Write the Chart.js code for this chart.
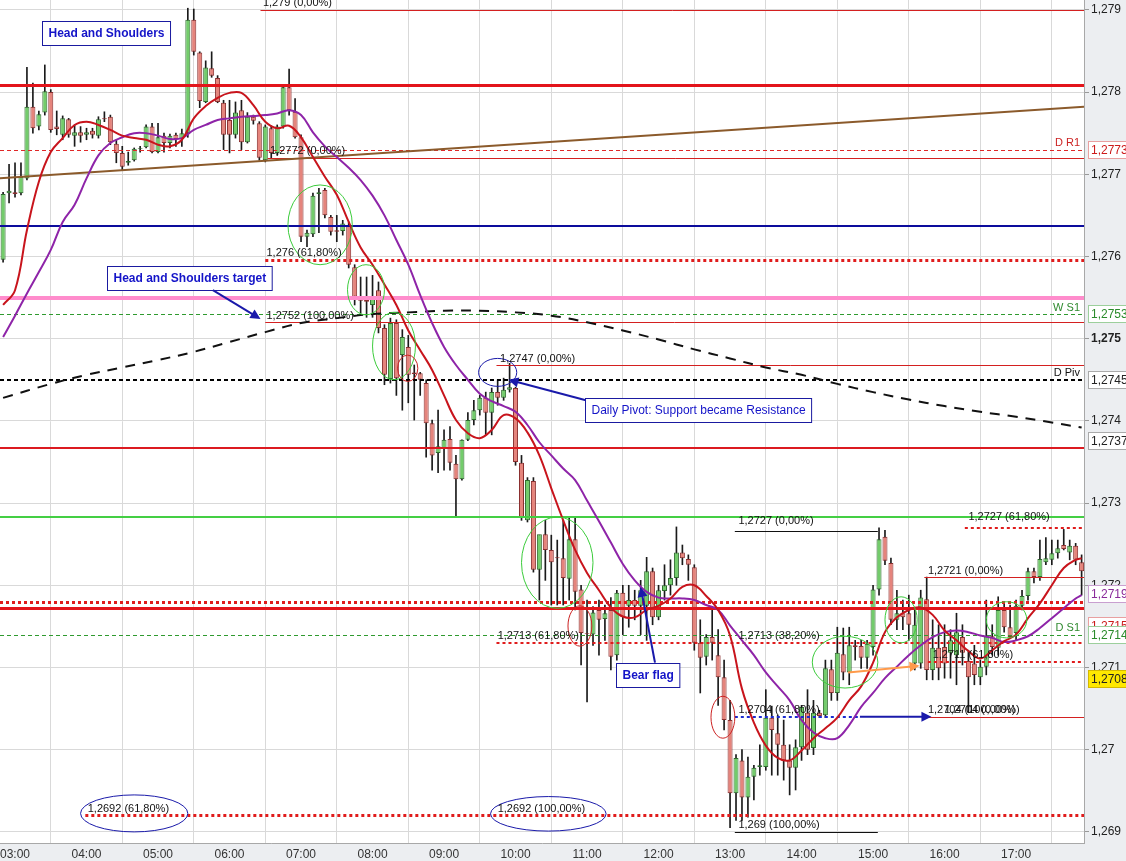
<!DOCTYPE html>
<html>
<head>
<meta charset="utf-8">
<title>EUR/USD 5 min - Head and Shoulders</title>
<script src="https://cdn.jsdelivr.net/npm/chart.js@4.4.1/dist/chart.umd.min.js"></script>
<style>
  html, body { margin: 0; padding: 0; background: #ffffff; overflow: hidden; }
  canvas { display: block; }
</style>
</head>
<body>
<canvas id="chart" width="1126" height="861"></canvas>
<script>
// 5 minute candles.
const times = [
  '02:50','02:55',
  '03:00','03:05','03:10','03:15','03:20','03:25','03:30','03:35','03:40','03:45','03:50','03:55',
  '04:00','04:05','04:10','04:15','04:20','04:25','04:30','04:35','04:40','04:45','04:50','04:55',
  '05:00','05:05','05:10','05:15','05:20','05:25','05:30','05:35','05:40','05:45','05:50','05:55',
  '06:00','06:05','06:10','06:15','06:20','06:25','06:30','06:35','06:40','06:45','06:50','06:55',
  '07:00','07:05','07:10','07:15','07:20','07:25','07:30','07:35','07:40','07:45','07:50','07:55',
  '08:00','08:05','08:10','08:15','08:20','08:25','08:30','08:35','08:40','08:45','08:50','08:55',
  '09:00','09:05','09:10','09:15','09:20','09:25','09:30','09:35','09:40','09:45','09:50','09:55',
  '10:00','10:05','10:10','10:15','10:20','10:25','10:30','10:35','10:40','10:45','10:50','10:55',
  '11:00','11:05','11:10','11:15','11:20','11:25','11:30','11:35','11:40','11:45','11:50','11:55',
  '12:00','12:05','12:10','12:15','12:20','12:25','12:30','12:35','12:40','12:45','12:50','12:55',
  '13:00','13:05','13:10','13:15','13:20','13:25','13:30','13:35','13:40','13:45','13:50','13:55',
  '14:00','14:05','14:10','14:15','14:20','14:25','14:30','14:35','14:40','14:45','14:50','14:55',
  '15:00','15:05','15:10','15:15','15:20','15:25','15:30','15:35','15:40','15:45','15:50','15:55',
  '16:00','16:05','16:10','16:15','16:20','16:25','16:30','16:35','16:40','16:45','16:50','16:55',
  '17:00','17:05','17:10','17:15','17:20','17:25','17:30','17:35','17:40','17:45','17:50','17:55'
];

const opens = [
  1.27596, 1.27677,
  1.27678, 1.27677, 1.27695, 1.27782, 1.27758, 1.27775, 1.27800, 1.27758, 1.27748, 1.27767, 1.27747, 1.27751,
  1.27748, 1.27753, 1.27747, 1.27768, 1.27770, 1.27737, 1.27726, 1.27714, 1.27717, 1.27731, 1.27733, 1.27758,
  1.27727, 1.27747, 1.27738, 1.27748, 1.27743, 1.27750, 1.27888, 1.27848, 1.27788, 1.27829, 1.27817, 1.27787,
  1.27766, 1.27748, 1.27778, 1.27739, 1.27770, 1.27762, 1.27717, 1.27756, 1.27726, 1.27758, 1.27806, 1.27776,
  1.27745, 1.27624, 1.27627, 1.27676, 1.27681, 1.27648, 1.27632, 1.27631, 1.27637, 1.27587, 1.27548, 1.27547,
  1.27541, 1.27559, 1.27513, 1.27451, 1.27519, 1.27480, 1.27490, 1.27459, 1.27458, 1.27446, 1.27397, 1.27361,
  1.27367, 1.27378, 1.27348, 1.27329, 1.27377, 1.27401, 1.27413, 1.27428, 1.27410, 1.27435, 1.27428, 1.27438,
  1.27440, 1.27349, 1.27279, 1.27327, 1.27219, 1.27262, 1.27243, 1.27234, 1.27233, 1.27208, 1.27256, 1.27195,
  1.27142, 1.27140, 1.27170, 1.27159, 1.27170, 1.27115, 1.27191, 1.27175, 1.27182, 1.27175, 1.27175, 1.27217,
  1.27161, 1.27193, 1.27200, 1.27209, 1.27240, 1.27232, 1.27222, 1.27130, 1.27113, 1.27137, 1.27115, 1.27088,
  1.27036, 1.26947, 1.26987, 1.26942, 1.26967, 1.26979, 1.26979, 1.27039, 1.27020, 1.27006, 1.26987, 1.26978,
  1.27003, 1.27045, 1.27002, 1.27045, 1.27042, 1.27098, 1.27069, 1.27116, 1.27094, 1.27127, 1.27126, 1.27112,
  1.27125, 1.27195, 1.27259, 1.27227, 1.27158, 1.27166, 1.27166, 1.27105, 1.27105, 1.27183, 1.27097, 1.27124,
  1.27125, 1.27118, 1.27115, 1.27137, 1.27108, 1.27105, 1.27088, 1.27101, 1.27138, 1.27124, 1.27170, 1.27149,
  1.27142, 1.27175, 1.27187, 1.27217, 1.27210, 1.27228, 1.27231, 1.27239, 1.27249, 1.27240, 1.27248, 1.27228
];

const highs = [
  1.27678, 1.27712,
  1.27714, 1.27714, 1.27830, 1.27811, 1.27777, 1.27833, 1.27803, 1.27777, 1.27771, 1.27768, 1.27760, 1.27758,
  1.27756, 1.27756, 1.27770, 1.27776, 1.27772, 1.27742, 1.27734, 1.27727, 1.27732, 1.27734, 1.27760, 1.27762,
  1.27762, 1.27750, 1.27749, 1.27750, 1.27755, 1.27902, 1.27901, 1.27849, 1.27838, 1.27849, 1.27820, 1.27790,
  1.27790, 1.27788, 1.27790, 1.27775, 1.27772, 1.27764, 1.27760, 1.27759, 1.27760, 1.27809, 1.27828, 1.27792,
  1.27748, 1.27632, 1.27677, 1.27683, 1.27683, 1.27650, 1.27650, 1.27644, 1.27642, 1.27590, 1.27575, 1.27575,
  1.27577, 1.27569, 1.27517, 1.27525, 1.27523, 1.27511, 1.27504, 1.27468, 1.27459, 1.27450, 1.27401, 1.27413,
  1.27389, 1.27393, 1.27358, 1.27377, 1.27410, 1.27425, 1.27431, 1.27435, 1.27440, 1.27450, 1.27452, 1.27470,
  1.27441, 1.27358, 1.27331, 1.27331, 1.27261, 1.27279, 1.27261, 1.27255, 1.27279, 1.27282, 1.27282, 1.27200,
  1.27182, 1.27174, 1.27182, 1.27176, 1.27185, 1.27194, 1.27200, 1.27200, 1.27194, 1.27206, 1.27234, 1.27221,
  1.27200, 1.27225, 1.27231, 1.27271, 1.27249, 1.27237, 1.27225, 1.27158, 1.27140, 1.27170, 1.27146, 1.27109,
  1.27060, 1.26994, 1.27000, 1.26991, 1.26981, 1.27006, 1.27073, 1.27053, 1.27042, 1.27036, 1.27006, 1.27012,
  1.27054, 1.27073, 1.27060, 1.27048, 1.27109, 1.27109, 1.27149, 1.27148, 1.27149, 1.27133, 1.27133, 1.27133,
  1.27200, 1.27270, 1.27267, 1.27233, 1.27194, 1.27182, 1.27188, 1.27170, 1.27194, 1.27210, 1.27158, 1.27152,
  1.27152, 1.27146, 1.27166, 1.27152, 1.27121, 1.27127, 1.27109, 1.27182, 1.27152, 1.27186, 1.27180, 1.27176,
  1.27182, 1.27194, 1.27221, 1.27221, 1.27255, 1.27258, 1.27255, 1.27255, 1.27268, 1.27255, 1.27251, 1.27237
];

const lows = [
  1.27593, 1.27665,
  1.27672, 1.27675, 1.27693, 1.27750, 1.27754, 1.27772, 1.27751, 1.27748, 1.27742, 1.27745, 1.27734, 1.27739,
  1.27742, 1.27744, 1.27744, 1.27764, 1.27736, 1.27714, 1.27705, 1.27711, 1.27716, 1.27727, 1.27732, 1.27726,
  1.27726, 1.27727, 1.27732, 1.27734, 1.27734, 1.27745, 1.27845, 1.27781, 1.27787, 1.27818, 1.27787, 1.27730,
  1.27726, 1.27744, 1.27730, 1.27738, 1.27761, 1.27717, 1.27715, 1.27720, 1.27723, 1.27756, 1.27772, 1.27744,
  1.27618, 1.27612, 1.27624, 1.27629, 1.27647, 1.27626, 1.27618, 1.27626, 1.27586, 1.27541, 1.27531, 1.27526,
  1.27526, 1.27507, 1.27444, 1.27446, 1.27431, 1.27413, 1.27422, 1.27401, 1.27431, 1.27356, 1.27340, 1.27337,
  1.27340, 1.27340, 1.27284, 1.27328, 1.27376, 1.27395, 1.27407, 1.27383, 1.27383, 1.27419, 1.27425, 1.27435,
  1.27346, 1.27279, 1.27277, 1.27216, 1.27182, 1.27206, 1.27176, 1.27176, 1.27176, 1.27182, 1.27170, 1.27103,
  1.27058, 1.27127, 1.27115, 1.27133, 1.27097, 1.27109, 1.27140, 1.27149, 1.27158, 1.27140, 1.27133, 1.27152,
  1.27158, 1.27182, 1.27188, 1.27200, 1.27225, 1.27206, 1.27121, 1.27069, 1.27103, 1.27109, 1.27054, 1.27024,
  1.26905, 1.26914, 1.26914, 1.26918, 1.26939, 1.26969, 1.26975, 1.26969, 1.26969, 1.26963, 1.26945, 1.26951,
  1.26987, 1.26994, 1.26994, 1.27039, 1.27039, 1.27060, 1.27060, 1.27085, 1.27079, 1.27109, 1.27099, 1.27099,
  1.27115, 1.27188, 1.27225, 1.27152, 1.27146, 1.27146, 1.27133, 1.27097, 1.27099, 1.27085, 1.27085, 1.27085,
  1.27087, 1.27087, 1.27079, 1.27103, 1.27045, 1.27079, 1.27079, 1.27091, 1.27115, 1.27115, 1.27143, 1.27137,
  1.27133, 1.27170, 1.27182, 1.27203, 1.27206, 1.27225, 1.27225, 1.27233, 1.27243, 1.27231, 1.27225, 1.27188
];

const closes = [
  1.27676, 1.27680,
  1.27676, 1.27697, 1.27782, 1.27756, 1.27773, 1.27801, 1.27754, 1.27755, 1.27768, 1.27748, 1.27751, 1.27747,
  1.27751, 1.27748, 1.27767, 1.27767, 1.27739, 1.27726, 1.27709, 1.27716, 1.27731, 1.27732, 1.27758, 1.27727,
  1.27745, 1.27738, 1.27747, 1.27743, 1.27750, 1.27888, 1.27849, 1.27789, 1.27830, 1.27820, 1.27788, 1.27748,
  1.27748, 1.27775, 1.27739, 1.27770, 1.27765, 1.27720, 1.27758, 1.27726, 1.27758, 1.27806, 1.27778, 1.27745,
  1.27624, 1.27629, 1.27674, 1.27678, 1.27650, 1.27630, 1.27630, 1.27640, 1.27590, 1.27551, 1.27546, 1.27545,
  1.27549, 1.27513, 1.27456, 1.27519, 1.27452, 1.27502, 1.27456, 1.27457, 1.27450, 1.27397, 1.27358, 1.27369,
  1.27377, 1.27349, 1.27329, 1.27377, 1.27401, 1.27413, 1.27428, 1.27410, 1.27435, 1.27428, 1.27438, 1.27441,
  1.27350, 1.27282, 1.27328, 1.27219, 1.27262, 1.27243, 1.27228, 1.27233, 1.27209, 1.27256, 1.27192, 1.27142,
  1.27141, 1.27167, 1.27158, 1.27166, 1.27113, 1.27191, 1.27161, 1.27182, 1.27175, 1.27194, 1.27217, 1.27161,
  1.27194, 1.27200, 1.27209, 1.27240, 1.27233, 1.27225, 1.27130, 1.27112, 1.27137, 1.27130, 1.27088, 1.27036,
  1.26947, 1.26990, 1.26942, 1.26967, 1.26978, 1.26981, 1.27039, 1.27024, 1.27006, 1.26987, 1.26978, 1.27003,
  1.27052, 1.27000, 1.27045, 1.27041, 1.27099, 1.27069, 1.27118, 1.27094, 1.27127, 1.27125, 1.27112, 1.27129,
  1.27195, 1.27256, 1.27230, 1.27158, 1.27166, 1.27161, 1.27152, 1.27152, 1.27185, 1.27097, 1.27124, 1.27099,
  1.27105, 1.27133, 1.27143, 1.27118, 1.27088, 1.27091, 1.27101, 1.27138, 1.27125, 1.27170, 1.27149, 1.27137,
  1.27175, 1.27187, 1.27217, 1.27210, 1.27232, 1.27233, 1.27239, 1.27245, 1.27244, 1.27248, 1.27231, 1.27217
];

// Moving averages (red = fast, purple = slow), read every 10 minutes.
const maTimes = [
  '02:50',
  '03:00','03:10','03:20','03:30','03:40','03:50',
  '04:00','04:10','04:20','04:30','04:40','04:50',
  '05:00','05:10','05:20','05:30','05:40','05:50',
  '06:00','06:10','06:20','06:30','06:40','06:50',
  '07:00','07:10','07:20','07:30','07:40','07:50',
  '08:00','08:10','08:20','08:30','08:40','08:50',
  '09:00','09:10','09:20','09:30','09:40','09:50',
  '10:00','10:10','10:20','10:30','10:40','10:50',
  '11:00','11:10','11:20','11:30','11:40','11:50',
  '12:00','12:10','12:20','12:30','12:40','12:50',
  '13:00','13:10','13:20','13:30','13:40','13:50',
  '14:00','14:10','14:20','14:30','14:40','14:50',
  '15:00','15:10','15:20','15:30','15:40','15:50',
  '16:00','16:10','16:20','16:30','16:40','16:50',
  '17:00','17:10','17:20','17:30','17:40','17:50',
  '17:55'
];
const redMA = [
  1.27541,
  1.27559, 1.27632, 1.27691, 1.27727, 1.27744, 1.27760,
  1.27764, 1.27760, 1.27754, 1.27747, 1.27744, 1.27742,
  1.27736, 1.27734, 1.27742, 1.27768, 1.27783, 1.27793,
  1.27799, 1.27799, 1.27784, 1.27764, 1.27756, 1.27759,
  1.27745, 1.27721, 1.27697, 1.27675, 1.27642, 1.27611,
  1.27590, 1.27566, 1.27541, 1.27510, 1.27486, 1.27462,
  1.27431, 1.27401, 1.27385, 1.27379, 1.27389, 1.27407,
  1.27403, 1.27386, 1.27358, 1.27318, 1.27279, 1.27243,
  1.27215, 1.27194, 1.27173, 1.27162, 1.27161, 1.27170,
  1.27175, 1.27184, 1.27198, 1.27200, 1.27187, 1.27170,
  1.27139, 1.27074, 1.27033, 1.27005, 1.26990, 1.26987,
  1.26999, 1.27014, 1.27026, 1.27039, 1.27060, 1.27077,
  1.27106, 1.27143, 1.27161, 1.27170, 1.27173, 1.27164,
  1.27145, 1.27133, 1.27120, 1.27111, 1.27121, 1.27132,
  1.27140, 1.27160, 1.27178, 1.27200, 1.27221, 1.27231,
  1.27233
];
const purpleMA = [
  1.27502,
  1.27528, 1.27555, 1.27581, 1.27608, 1.27642, 1.27663,
  1.27695, 1.27723, 1.27738, 1.27745, 1.27750, 1.27750,
  1.27747, 1.27743, 1.27744, 1.27754, 1.27760, 1.27766,
  1.27768, 1.27770, 1.27771, 1.27772, 1.27774, 1.27778,
  1.27772, 1.27751, 1.27734, 1.27721, 1.27708, 1.27693,
  1.27674, 1.27650, 1.27620, 1.27590, 1.27553, 1.27519,
  1.27490, 1.27468, 1.27450, 1.27433, 1.27424, 1.27418,
  1.27411, 1.27395, 1.27374, 1.27358, 1.27342, 1.27328,
  1.27303, 1.27278, 1.27252, 1.27226, 1.27206, 1.27192,
  1.27185, 1.27184, 1.27184, 1.27182, 1.27176, 1.27170,
  1.27151, 1.27133, 1.27115, 1.27094, 1.27077, 1.27060,
  1.27036, 1.27021, 1.27014, 1.27014, 1.27030, 1.27052,
  1.27069, 1.27087, 1.27101, 1.27115, 1.27127, 1.27137,
  1.27143, 1.27145, 1.27143, 1.27139, 1.27136, 1.27131,
  1.27133, 1.27138, 1.27148, 1.27160, 1.27172, 1.27184,
  1.27188
];

// Long average (black dashed), read every 30 minutes.
const longMaTimes = [
  '02:50','03:30','04:00','04:30','05:00','05:30','06:00','06:30','07:00','07:30','08:00',
  '08:30','09:00','09:30','10:00','10:30','11:00','11:30','12:00','12:30','13:00','13:30',
  '14:00','14:30','15:00','15:30','16:00','16:30','17:00','17:30','17:55'
];
const longMA = [
  1.27428, 1.27445, 1.27456, 1.27465, 1.27474, 1.27484, 1.27496, 1.27508, 1.27519, 1.27525, 1.27530,
  1.27532, 1.27534, 1.27534, 1.27532, 1.27528, 1.27520, 1.27510, 1.27499, 1.27487, 1.27476, 1.27465,
  1.27456, 1.27445, 1.27435, 1.27426, 1.27418, 1.27411, 1.27405, 1.27398, 1.27392
];

// Brown trend line, end points at the chart edges.
const trendTimes = ['02:47', '17:57'];
const trendPrices = [1.27695, 1.27782];

// Axis ticks.
const hourLabels = ['03:00','04:00','05:00','06:00','07:00','08:00','09:00','10:00','11:00','12:00','13:00','14:00','15:00','16:00','17:00'];
const priceTicks = [1.269, 1.270, 1.271, 1.272, 1.273, 1.274, 1.275, 1.276, 1.277, 1.278, 1.279];

// Horizontal levels over the whole day.
const pivotLevels = [
  { name: '',      price: 1.27809, kind: 'redThick' },
  { name: 'D R1',  price: 1.2773,  kind: 'redDash' },
  { name: '',      price: 1.27637, kind: 'blueThick' },
  { name: '',      price: 1.27549, kind: 'pink' },
  { name: 'W S1',  price: 1.2753,  kind: 'greenDash' },
  { name: 'D Piv', price: 1.2745,  kind: 'blackDot' },
  { name: '',      price: 1.27367, kind: 'redLine2' },
  { name: '',      price: 1.27283, kind: 'greenThick' },
  { name: '',      price: 1.2718,  kind: 'redDot' },
  { name: '',      price: 1.27172, kind: 'redThick' },
  { name: 'D S1',  price: 1.2714,  kind: 'greenDash' }
];

// Fibonacci lines: start (and optional end) time.
const fibLines = [
  { price: 1.2790,  from: '06:26', to: null,    kind: 'thinRed' },
  { price: 1.2772,  from: '06:32', to: null,    kind: 'thinRed' },
  { price: 1.27596, from: '06:30', to: null,    kind: 'redDot' },
  { price: 1.2752,  from: '06:30', to: null,    kind: 'thinRed' },
  { price: 1.27468, from: '09:44', to: null,    kind: 'thinRed' },
  { price: 1.27266, from: '13:04', to: '15:04', kind: 'thinBlack' },
  { price: 1.2727,  from: '16:17', to: null,    kind: 'redDot2' },
  { price: 1.2721,  from: '15:43', to: null,    kind: 'thinRed' },
  { price: 1.2713,  from: '09:44', to: null,    kind: 'redDot2' },
  { price: 1.27107, from: '15:46', to: null,    kind: 'redDot2' },
  { price: 1.2704,  from: '13:04', to: '14:49', kind: 'blueDot' },
  { price: 1.2704,  from: '15:43', to: null,    kind: 'thinRed' },
  { price: 1.2692,  from: '03:59', to: null,    kind: 'redDot' },
  { price: 1.2690,  from: '13:04', to: '15:04', kind: 'thinBlack' }
];

const fibLabels = [
  { text: '1,279 (0,00%)',    t: '06:28', p: 1.2790 },
  { text: '1,2772 (0,00%)',   t: '06:34', p: 1.2772 },
  { text: '1,276 (61,80%)',   t: '06:31', p: 1.27596 },
  { text: '1,2752 (100,00%)', t: '06:31', p: 1.2752 },
  { text: '1,2747 (0,00%)',   t: '09:47', p: 1.27468 },
  { text: '1,2727 (0,00%)',   t: '13:07', p: 1.2727 },
  { text: '1,2727 (61,80%)',  t: '16:20', p: 1.27275 },
  { text: '1,2721 (0,00%)',   t: '15:46', p: 1.2721 },
  { text: '1,2713 (61,80%)',  t: '09:45', p: 1.2713 },
  { text: '1,2713 (38,20%)',  t: '13:07', p: 1.2713 },
  { text: '1,2711 (61,80%)',  t: '15:50', p: 1.27107 },
  { text: '1,2704 (61,80%)',  t: '13:07', p: 1.2704 },
  { text: '1,2704 (100,00%)', t: '15:46', p: 1.2704 },
  { text: '1,2704 (0,00%)',   t: '16:00', p: 1.2704 },
  { text: '1,2692 (61,80%)',  t: '04:01', p: 1.2692 },
  { text: '1,2692 (100,00%)', t: '09:45', p: 1.2692 },
  { text: '1,269 (100,00%)',  t: '13:07', p: 1.2690 }
];

// Price tags in the right margin.
const priceTags = [
  { text: '1,2773',  p: 1.2773,  kind: 'red' },
  { text: '1,2753',  p: 1.2753,  kind: 'green' },
  { text: '1,2745',  p: 1.2745,  kind: 'black' },
  { text: '1,2737',  p: 1.27375, kind: 'black' },
  { text: '1,2719',  p: 1.2719,  kind: 'purple' },
  { text: '1,2715',  p: 1.2715,  kind: 'red' },
  { text: '1,2714',  p: 1.2714,  kind: 'green' },
  { text: '1,27086', p: 1.27086, kind: 'yellow' }
];

// Drawn notes.
const noteBoxes = [
  { text: 'Head and Shoulders',                     t: '03:23', p: 1.27872, bold: true },
  { text: 'Head and Shoulders target',              t: '04:17', p: 1.27574, bold: true },
  { text: 'Daily Pivot: Support became Resistance', t: '10:58', p: 1.27413, bold: false },
  { text: 'Bear flag',                              t: '11:24', p: 1.27091, bold: true }
];
const noteArrows = [
  { t1: '05:46', p1: 1.27559, t2: '06:26', p2: 1.27524, kind: 'blue' },
  { t1: '10:59', p1: 1.27425, t2: '09:54', p2: 1.27450, kind: 'blue' },
  { t1: '11:57', p1: 1.27106, t2: '11:45', p2: 1.27198, kind: 'blue' },
  { t1: '14:49', p1: 1.2704,  t2: '15:49', p2: 1.2704,  kind: 'blue' },
  { t1: '14:39', p1: 1.27094, t2: '15:39', p2: 1.27102, kind: 'orange' }
];
const noteEllipses = [
  { t1: '06:49', t2: '07:43', p1: 1.27687, p2: 1.27590, kind: 'green' },
  { t1: '07:39', t2: '08:10', p1: 1.27590, p2: 1.27529, kind: 'green' },
  { t1: '08:00', t2: '08:36', p1: 1.27532, p2: 1.27450, kind: 'green' },
  { t1: '10:05', t2: '11:05', p1: 1.27283, p2: 1.27172, kind: 'green' },
  { t1: '14:09', t2: '15:04', p1: 1.27138, p2: 1.27075, kind: 'green' },
  { t1: '15:10', t2: '15:37', p1: 1.27186, p2: 1.27130, kind: 'green' },
  { t1: '16:35', t2: '17:09', p1: 1.27180, p2: 1.27136, kind: 'green' },
  { t1: '08:21', t2: '08:38', p1: 1.27480, p2: 1.27448, kind: 'red' },
  { t1: '10:44', t2: '11:04', p1: 1.27175, p2: 1.27126, kind: 'red' },
  { t1: '12:44', t2: '13:04', p1: 1.27065, p2: 1.27014, kind: 'red' },
  { t1: '09:29', t2: '10:01', p1: 1.27476, p2: 1.27442, kind: 'blue' },
  { t1: '03:55', t2: '05:25', p1: 1.26945, p2: 1.26900, kind: 'blue' },
  { t1: '09:39', t2: '11:16', p1: 1.26943, p2: 1.26901, kind: 'blue' }
];

// ---- styles ----
const FONT = "'Liberation Sans', Arial, sans-serif";
const lineStyles = {
  thinRed:    { color: '#d42020', width: 1 },
  thinBlack:  { color: '#111111', width: 1 },
  redThick:   { color: '#e3141b', width: 3 },
  redLine2:   { color: '#dc1a20', width: 2 },
  redDash:    { color: '#e02828', width: 1, dash: [4, 3] },
  redDot:     { color: '#e01c1c', width: 3, dash: [3, 3] },
  redDot2:    { color: '#e01c1c', width: 2, dash: [3, 3] },
  blueThick:  { color: '#0c0c9c', width: 2 },
  blueDot:    { color: '#1a2bd0', width: 2, dash: [3, 3] },
  pink:       { color: '#ff8ccc', width: 4 },
  greenDash:  { color: '#2f9a2f', width: 1, dash: [4, 3] },
  greenThick: { color: '#44cf44', width: 2 },
  blackDot:   { color: '#000000', width: 2, dash: [4, 3] }
};
const pivotTextColors = { 'D R1': '#cc2222', 'W S1': '#2f8a2f', 'D Piv': '#111111', 'D S1': '#2f8a2f' };
const tagStyles = {
  red:    { text: '#cc1a1a', border: '#e8a0a0', fill: '#ffffff' },
  green:  { text: '#2a8a2a', border: '#9ccf9c', fill: '#ffffff' },
  black:  { text: '#222222', border: '#aaaaaa', fill: '#ffffff' },
  purple: { text: '#8a2a9a', border: '#c9a0d0', fill: '#ffffff' },
  yellow: { text: '#222222', border: '#d4b800', fill: '#ffe800' }
};
const noteColors = { green: '#3ccc3c', red: '#cc2222', blue: '#1a1aaa', orange: '#ff9a4a' };
const UP_FILL = '#73cc6b', UP_LINE = '#2e6b2e';
const DOWN_FILL = '#e5847c', DOWN_LINE = '#8a2f2f';

// "HH:MM" -> minutes after midnight
function tm(s) {
  const parts = s.split(':');
  return parseInt(parts[0], 10) * 60 + parseInt(parts[1], 10);
}
function pad2(n) { return (n < 10 ? '0' : '') + n; }

const xMin = 167.4, xMax = 1077;   // visible time window (minutes)
const yMin = 1.268865, yMax = 1.27912;

function hline(c, x1, x2, y, st) {
  c.beginPath();
  c.strokeStyle = st.color;
  c.lineWidth = st.width;
  c.setLineDash(st.dash || []);
  const yy = st.width % 2 ? Math.round(y) + 0.5 : Math.round(y);
  c.moveTo(x1, yy);
  c.lineTo(x2, yy);
  c.stroke();
}

function drawLevels(chart) {
  const c = chart.ctx, a = chart.chartArea, xs = chart.scales.x, ys = chart.scales.y;
  c.save();
  c.beginPath();
  c.rect(a.left, a.top, a.right - a.left, a.bottom - a.top);
  c.clip();
  pivotLevels.forEach(l => hline(c, a.left, a.right, ys.getPixelForValue(l.price), lineStyles[l.kind]));
  fibLines.forEach(l => {
    const x1 = xs.getPixelForValue(tm(l.from));
    const x2 = l.to ? xs.getPixelForValue(tm(l.to)) : a.right;
    hline(c, x1, x2, ys.getPixelForValue(l.price), lineStyles[l.kind]);
  });
  c.restore();
}

function arrow(c, x1, y1, x2, y2, color) {
  const ang = Math.atan2(y2 - y1, x2 - x1);
  const len = 10, half = 5;
  c.strokeStyle = color;
  c.fillStyle = color;
  c.lineWidth = 2;
  c.setLineDash([]);
  c.beginPath();
  c.moveTo(x1, y1);
  c.lineTo(x2 - Math.cos(ang) * len * 0.8, y2 - Math.sin(ang) * len * 0.8);
  c.stroke();
  c.beginPath();
  c.moveTo(x2, y2);
  c.lineTo(x2 - Math.cos(ang) * len - Math.sin(ang) * half, y2 - Math.sin(ang) * len + Math.cos(ang) * half);
  c.lineTo(x2 - Math.cos(ang) * len + Math.sin(ang) * half, y2 - Math.sin(ang) * len - Math.cos(ang) * half);
  c.closePath();
  c.fill();
}

function drawNotes(chart) {
  const c = chart.ctx, a = chart.chartArea, xs = chart.scales.x, ys = chart.scales.y;
  const X = t => xs.getPixelForValue(tm(t));
  const Y = p => ys.getPixelForValue(p);

  c.save();
  c.beginPath();
  c.rect(a.left, a.top, a.right - a.left, a.bottom - a.top);
  c.clip();

  // ellipses
  noteEllipses.forEach(e => {
    const x1 = X(e.t1), x2 = X(e.t2), y1 = Y(e.p1), y2 = Y(e.p2);
    c.beginPath();
    c.strokeStyle = noteColors[e.kind];
    c.lineWidth = 1;
    c.setLineDash([]);
    c.ellipse((x1 + x2) / 2, (y1 + y2) / 2, Math.abs(x2 - x1) / 2, Math.abs(y2 - y1) / 2, 0, 0, Math.PI * 2);
    c.stroke();
  });

  // level names on the right
  c.font = '11px ' + FONT;
  c.textAlign = 'right';
  c.textBaseline = 'bottom';
  pivotLevels.forEach(l => {
    if (!l.name) return;
    c.fillStyle = pivotTextColors[l.name];
    c.fillText(l.name, a.right - 4, Y(l.price) - 1);
  });

  // fibonacci texts
  c.textAlign = 'left';
  c.fillStyle = '#111111';
  fibLabels.forEach(f => c.fillText(f.text, X(f.t), Y(f.p) - 1));

  // text boxes
  noteBoxes.forEach(b => {
    c.font = (b.bold ? 'bold ' : '') + '12px ' + FONT;
    const w = c.measureText(b.text).width + 12;
    const x = Math.round(X(b.t)) + 0.5, y = Math.round(Y(b.p) - 12) + 0.5;
    c.fillStyle = '#ffffff';
    c.fillRect(x, y, w, 24);
    c.strokeStyle = '#1a1aa0';
    c.lineWidth = 1;
    c.strokeRect(x, y, w, 24);
    c.fillStyle = '#1414c8';
    c.textBaseline = 'middle';
    c.fillText(b.text, x + 6, y + 12.5);
  });

  noteArrows.forEach(n => arrow(c, X(n.t1), Y(n.p1), X(n.t2), Y(n.p2), noteColors[n.kind]));
  c.restore();

  // price tags in the right margin
  c.save();
  c.font = '12px ' + FONT;
  c.textAlign = 'left';
  c.textBaseline = 'middle';
  priceTags.forEach(g => {
    const st = tagStyles[g.kind];
    const y = Math.round(Y(g.p));
    c.fillStyle = st.fill;
    c.fillRect(a.right + 4.5, y - 8.5, 38, 17);
    c.strokeStyle = st.border;
    c.lineWidth = 1;
    c.strokeRect(a.right + 4.5, y - 8.5, 38, 17);
    c.fillStyle = st.text;
    c.fillText(g.text, a.right + 7, y + 0.5);
  });
  c.restore();
}

const chartDecor = {
  id: 'chartDecor',
  beforeDraw(chart) {
    const c = chart.ctx, a = chart.chartArea;
    c.save();
    c.fillStyle = '#eceef1';
    c.fillRect(0, 0, chart.width, chart.height);
    c.fillStyle = '#ffffff';
    c.fillRect(a.left, a.top, a.right - a.left, a.bottom - a.top);
    c.restore();
  },
  afterDatasetDraw(chart, args) {
    // levels go on top of the candles but under the averages
    if (args.index === 1) drawLevels(chart);
  },
  afterDraw(chart) {
    drawNotes(chart);
  }
};

const isUp = i => closes[i] >= opens[i];

new Chart(document.getElementById('chart'), {
  type: 'line',
  data: {
    datasets: [
      {
        label: 'wicks',
        type: 'bar',
        data: times.map((t, i) => ({ x: tm(t), y: [lows[i], highs[i]] })),
        backgroundColor: '#1a1a1a',
        borderWidth: 0,
        grouped: false,
        maxBarThickness: 1,
        categoryPercentage: 1,
        barPercentage: 1,
        order: 5
      },
      {
        label: 'bodies',
        type: 'bar',
        data: times.map((t, i) => ({ x: tm(t), y: [opens[i], closes[i]] })),
        backgroundColor: c => isUp(c.dataIndex) ? UP_FILL : DOWN_FILL,
        borderColor: c => isUp(c.dataIndex) ? UP_LINE : DOWN_LINE,
        borderWidth: 1,
        borderSkipped: false,
        grouped: false,
        categoryPercentage: 1,
        barPercentage: 0.84,
        maxBarThickness: 5,
        order: 4
      },
      {
        label: 'trend',
        data: trendTimes.map((t, i) => ({ x: tm(t), y: trendPrices[i] })),
        borderColor: '#8b5a2b',
        borderWidth: 2,
        pointRadius: 0,
        order: 3
      },
      {
        label: 'long average',
        data: longMaTimes.map((t, i) => ({ x: tm(t), y: longMA[i] })),
        borderColor: '#111111',
        borderWidth: 2,
        borderDash: [10, 8],
        pointRadius: 0,
        tension: 0.4,
        order: 2
      },
      {
        label: 'slow average',
        data: maTimes.map((t, i) => ({ x: tm(t), y: purpleMA[i] })),
        borderColor: '#8e24a8',
        borderWidth: 2,
        pointRadius: 0,
        tension: 0.4,
        order: 1
      },
      {
        label: 'fast average',
        data: maTimes.map((t, i) => ({ x: tm(t), y: redMA[i] })),
        borderColor: '#c8141c',
        borderWidth: 2,
        pointRadius: 0,
        tension: 0.4,
        order: 0
      }
    ]
  },
  options: {
    responsive: false,
    animation: false,
    events: [],
    layout: { padding: 0, autoPadding: false },
    plugins: { legend: { display: false }, tooltip: { enabled: false } },
    scales: {
      x: {
        type: 'linear',
        min: xMin,
        max: xMax,
        offset: false,
        bounds: 'data',
        afterBuildTicks: s => { s.ticks = hourLabels.map(h => ({ value: tm(h) })); },
        afterFit: s => { s.height = 18; s.paddingLeft = 0; s.paddingRight = 0; },
        grid: { color: '#d9d9d9', drawTicks: false },
        border: { display: true, color: '#a8a8a8' },
        ticks: {
          autoSkip: false,
          maxRotation: 0,
          padding: 4,
          color: '#333333',
          font: { family: FONT, size: 12 },
          callback: v => pad2(Math.floor(v / 60)) + ':' + pad2(Math.round(v % 60))
        }
      },
      y: {
        type: 'linear',
        position: 'right',
        min: yMin,
        max: yMax,
        bounds: 'data',
        afterBuildTicks: s => { s.ticks = priceTicks.map(v => ({ value: v })); },
        afterFit: s => { s.width = 42; s.paddingTop = 0; s.paddingBottom = 0; },
        grid: { color: '#d9d9d9', drawTicks: true, tickLength: 5, tickColor: '#999999' },
        border: { display: true, color: '#a8a8a8' },
        ticks: {
          padding: 2,
          color: '#222222',
          font: c => ({
            family: FONT,
            size: 12,
            weight: c.tick && Math.abs(c.tick.value - 1.275) < 1e-7 ? 'bold' : 'normal'
          }),
          callback: v => String(Math.round(v * 1000) / 1000).replace('.', ',')
        }
      }
    }
  },
  plugins: [chartDecor]
});
</script>
</body>
</html>
